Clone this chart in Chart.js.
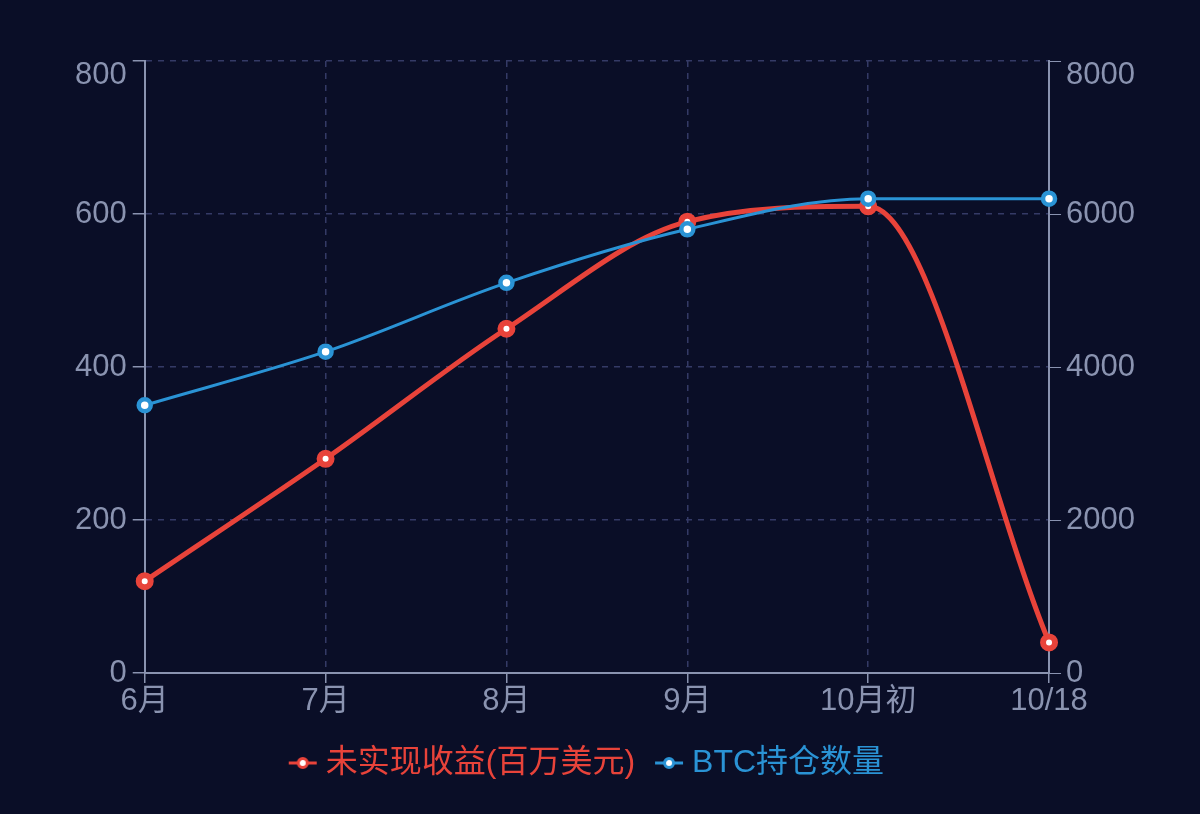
<!DOCTYPE html>
<html><head><meta charset="utf-8">
<script src="https://cdn.jsdelivr.net/npm/chart.js@4/dist/chart.umd.min.js"></script>
<style>html,body{margin:0;padding:0;background:#0a0e27;}canvas{display:block;}</style>
</head><body>
<canvas id="c" width="1200" height="814"></canvas>
<script>
const categories = ['6月','7月','8月','9月','10月初','10/18'];
const unrealizedProfit = [120, 280, 450, 590, 610, 40];
const btcHoldings = [3500, 4200, 5100, 5800, 6200, 6200];
const seriesNames = ['未实现收益(百万美元)', 'BTC持仓数量'];
const redColor = '#e8433a';
const blueColor = '#2a93d5';
const axisColor = '#8a93b0';
const gridColor = '#343a66';
const FONT = "'Liberation Sans', 'Noto Sans CJK SC', sans-serif";

function legendIcon(color){
  const cv = document.createElement('canvas');
  cv.width = 30; cv.height = 16;
  const g = cv.getContext('2d');
  g.strokeStyle = color; g.lineWidth = 3;
  g.beginPath(); g.moveTo(1,8); g.lineTo(29,8); g.stroke();
  g.beginPath(); g.arc(15,8,4.5,0,Math.PI*2); g.fillStyle='#ffffff'; g.fill();
  g.lineWidth = 3; g.stroke();
  return cv;
}

const legendShift = {
  id: 'legendShift',
  afterLayout(chart) {
    if (chart.legend) { chart.legend.left -= 7; chart.legend.right -= 7; }
  }
};

// top tick label sits just below the top of the axis, like the reference
function tickFont(ctx) {
  const isTop = ctx.tick && ctx.scale && ctx.tick.value === ctx.scale.max;
  return {family: FONT, size: 31, lineHeight: isTop ? '28px' : 1.2};
}
function tickLabel(max) {
  return (v) => v === max ? ['', String(v)] : String(v);
}

new Chart(document.getElementById('c'), {
  type: 'line',
  data: {
    labels: categories,
    datasets: [
      {label: seriesNames[0], data: unrealizedProfit, yAxisID: 'y', order: 1, borderColor: redColor, backgroundColor: redColor,
       borderWidth: 5, pointRadius: 6, pointBorderWidth: 6, pointBackgroundColor: '#ffffff', pointBorderColor: redColor,
       cubicInterpolationMode: 'monotone'},
      {label: seriesNames[1], data: btcHoldings, yAxisID: 'y1', order: 0, borderColor: blueColor, backgroundColor: blueColor,
       borderWidth: 3, pointRadius: 6, pointBorderWidth: 4.5, pointBackgroundColor: '#ffffff', pointBorderColor: blueColor,
       cubicInterpolationMode: 'monotone'}
    ]
  },
  plugins: [legendShift],
  options: {
    responsive: false,
    animation: false,
    layout: {padding: {left: 69, right: 60, top: 61, bottom: 25}},
    plugins: {
      tooltip: {enabled: false},
      legend: {
        position: 'bottom',
        fullSize: false,
        labels: {
          font: {family: FONT, size: 32},
          usePointStyle: true,
          pointStyleWidth: 14,
          padding: 27,
          generateLabels: (chart) => chart.data.datasets.map((ds, i) => ({
            text: ds.label, fontColor: ds.borderColor, pointStyle: legendIcon(ds.borderColor),
            strokeStyle: ds.borderColor, fillStyle: ds.borderColor, lineWidth: 0, datasetIndex: i, hidden: false
          }))
        }
      }
    },
    scales: {
      x: {
        offset: false,
        border: {display: true, color: axisColor, width: 2, dash: [6,6]},
        grid: {color: gridColor, lineWidth: 1.5, tickColor: axisColor, tickBorderDash: [], tickLength: 10, drawTicks: true},
        ticks: {color: axisColor, font: {family: FONT, size: 31, lineHeight: 1.0}, padding: 3, maxRotation: 0}
      },
      y: {
        position: 'left', min: 0, max: 800,
        border: {display: true, color: axisColor, width: 2, dash: [6,6]},
        grid: {color: gridColor, lineWidth: 1.5, tickColor: axisColor, tickBorderDash: [], tickLength: 12},
        ticks: {stepSize: 200, color: axisColor, font: tickFont, padding: 6, callback: tickLabel(800)}
      },
      y1: {
        position: 'right', min: 0, max: 8000,
        border: {display: true, color: axisColor, width: 2},
        grid: {drawOnChartArea: false, tickColor: axisColor, tickLength: 12},
        ticks: {stepSize: 2000, color: axisColor, font: tickFont, padding: 5, callback: tickLabel(8000)}
      }
    }
  }
});
</script>
</body></html>
